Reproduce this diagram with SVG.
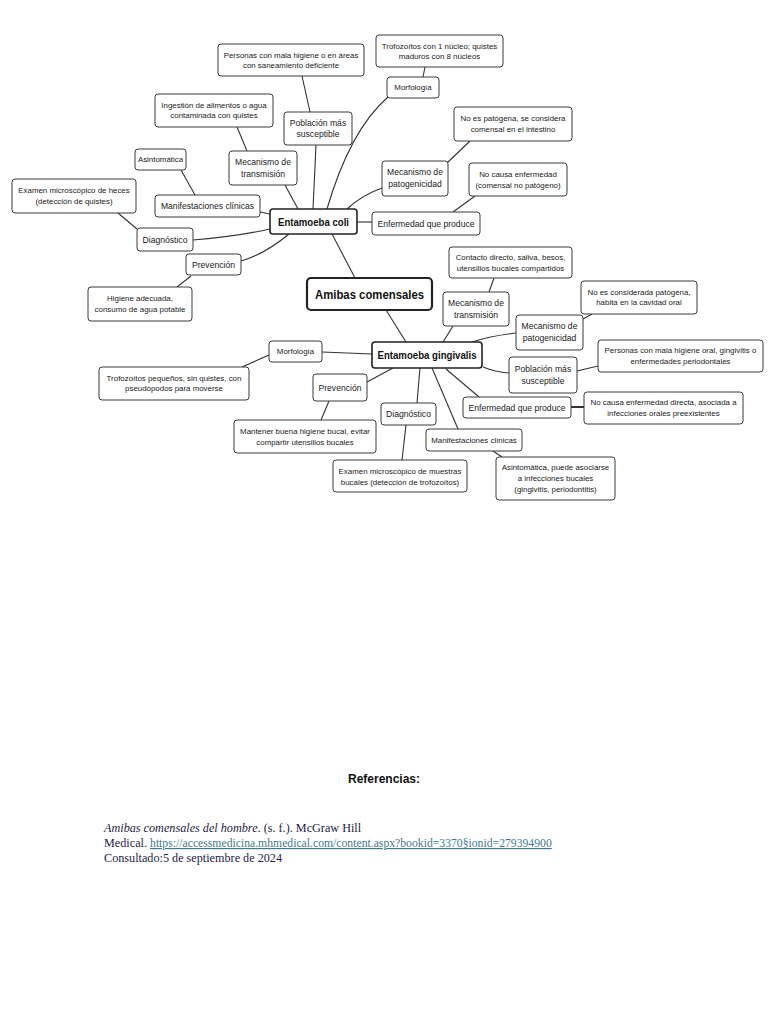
<svg xmlns="http://www.w3.org/2000/svg" width="768" height="1024" viewBox="0 0 768 1024">
<style>
.b{fill:#fff;stroke:#3a3a3a;stroke-width:1}
.m{fill:#fff;stroke:#222;stroke-width:1.6}
.r{fill:#fff;stroke:#222;stroke-width:2.2}
.t{font-family:"Liberation Sans",Arial,sans-serif;font-size:7.9px;fill:#222;text-anchor:middle}
.s{font-family:"Liberation Sans",Arial,sans-serif;font-size:8.6px;fill:#222;text-anchor:middle}
.h{font-family:"Liberation Sans",Arial,sans-serif;font-size:10px;font-weight:bold;fill:#111;text-anchor:middle}
.c path{fill:none;stroke:#333;stroke-width:1.1}
.ref{font-family:"Liberation Serif","Times New Roman",serif;font-size:12.2px;fill:#1f2347}
</style>
<rect width="768" height="1024" fill="#fff"/>
<g class="c">
<path d="M332,234 L355,278"/>
<path d="M386,310 L406,342"/>
<path d="M313,209 L316,145"/>
<path d="M310,112 L302,76"/>
<path d="M298,209 L285,185"/>
<path d="M247,151 L237,127"/>
<path d="M327,209 Q350,130 388,97"/>
<path d="M423,77 L425,67"/>
<path d="M347,209 Q362,195 382,188"/>
<path d="M447,163 L470,141"/>
<path d="M357,222 L372,222"/>
<path d="M453,212 L475,196"/>
<path d="M260,212 L270,214"/>
<path d="M181,170 L195,195"/>
<path d="M193,240 Q240,236 270,229"/>
<path d="M137,229 L118,213"/>
<path d="M241,261 Q265,254 289,234"/>
<path d="M191,276 L177,287"/>
<path d="M443,342 L453,326"/>
<path d="M489,292 L494,278"/>
<path d="M472,342 Q490,336 516,333"/>
<path d="M583,319 L592,314"/>
<path d="M483,367 Q495,372 509,373"/>
<path d="M577,371 L598,366"/>
<path d="M446,369 L479,397"/>
<path d="M571,407 L584,407" style="stroke-width:2"/>
<path d="M432,368 L458,429"/>
<path d="M420,368 L417,403"/>
<path d="M406,425 L402,460"/>
<path d="M493,451 L502,457"/>
<path d="M322,352 L372,354"/>
<path d="M269,355 L242,367"/>
<path d="M367,382 L393,368"/>
<path d="M329,401 L321,420"/>
</g>
<g id="amibas"><rect class="r" x="307" y="278" width="125" height="32" rx="4"/><text class="h" x="369.5" y="299" style="font-size:13.5px" textLength="109" lengthAdjust="spacingAndGlyphs">Amibas comensales</text></g>
<g id="coli"><rect class="m" x="270" y="209" width="87" height="25" rx="3"/><text class="h" x="313.5" y="225.5" textLength="71" lengthAdjust="spacingAndGlyphs">Entamoeba coli</text></g>
<g id="gingivalis"><rect class="m" x="372" y="342" width="110" height="26" rx="3"/><text class="h" x="427" y="359" textLength="99" lengthAdjust="spacingAndGlyphs">Entamoeba gingivalis</text></g>
<g id="c-personas"><rect class="b" x="218" y="44" width="146" height="32" rx="3"/><text class="t" x="291" y="58">Personas con mala higiene o en áreas</text><text class="t" x="291" y="68">con saneamiento deficiente</text></g>
<g id="c-trofo"><rect class="b" x="376" y="35" width="127" height="32" rx="3"/><text class="t" x="439.5" y="49">Trofozoítos con 1 núcleo; quistes</text><text class="t" x="439.5" y="59">maduros con 8 núcleos</text></g>
<g id="c-morf"><rect class="b" x="387" y="77" width="52" height="21" rx="3"/><text class="t" x="413" y="90">Morfología</text></g>
<g id="c-pob"><rect class="b" x="284" y="112" width="68" height="33" rx="3"/><text class="s" x="318" y="126">Población más</text><text class="s" x="318" y="137">susceptible</text></g>
<g id="c-ingest"><rect class="b" x="155" y="94" width="118" height="33" rx="3"/><text class="t" x="214" y="108">Ingestión de alimentos o agua</text><text class="t" x="214" y="118">contaminada con quistes</text></g>
<g id="c-mectr"><rect class="b" x="229" y="151" width="68" height="34" rx="3"/><text class="s" x="263" y="165">Mecanismo de</text><text class="s" x="263" y="177">transmisión</text></g>
<g id="c-mecpat"><rect class="b" x="382" y="161" width="66" height="35" rx="3"/><text class="s" x="415" y="175">Mecanismo de</text><text class="s" x="415" y="187">patogenicidad</text></g>
<g id="c-noespat"><rect class="b" x="454" y="107" width="118" height="34" rx="3"/><text class="t" x="513" y="121">No es patógena, se considera</text><text class="t" x="513" y="132">comensal en el intestino</text></g>
<g id="c-nocausa"><rect class="b" x="469" y="163" width="98" height="33" rx="3"/><text class="t" x="518" y="177">No causa enfermedad</text><text class="t" x="518" y="188">(comensal no patógeno)</text></g>
<g id="c-enf"><rect class="b" x="372" y="212" width="108" height="23" rx="3"/><text class="s" x="426" y="226.5">Enfermedad que produce</text></g>
<g id="c-asint"><rect class="b" x="135" y="149" width="51" height="21" rx="3"/><text class="t" x="160.5" y="162">Asintomática</text></g>
<g id="c-examen"><rect class="b" x="12" y="179" width="124" height="34" rx="3"/><text class="t" x="74" y="193">Examen microscópico de heces</text><text class="t" x="74" y="204">(detección de quistes)</text></g>
<g id="c-manif"><rect class="b" x="155" y="195" width="105" height="22" rx="3"/><text class="s" x="207.5" y="209">Manifestaciones clínicas</text></g>
<g id="c-diag"><rect class="b" x="137" y="228" width="56" height="23" rx="3"/><text class="s" x="165" y="242.5">Diagnóstico</text></g>
<g id="c-prev"><rect class="b" x="186" y="254" width="55" height="21" rx="3"/><text class="s" x="213.5" y="267.5">Prevención</text></g>
<g id="c-higiene"><rect class="b" x="88" y="287" width="104" height="34" rx="3"/><text class="t" x="140" y="301">Higiene adecuada,</text><text class="t" x="140" y="312">consumo de agua potable</text></g>
<g id="g-contacto"><rect class="b" x="449" y="247" width="123" height="31" rx="3"/><text class="t" x="510.5" y="260">Contacto directo, saliva, besos,</text><text class="t" x="510.5" y="271">utensilios bucales compartidos</text></g>
<g id="g-mectr"><rect class="b" x="443" y="292" width="66" height="34" rx="3"/><text class="s" x="476" y="306">Mecanismo de</text><text class="s" x="476" y="318">transmisión</text></g>
<g id="g-noescons"><rect class="b" x="581" y="281" width="116" height="33" rx="3"/><text class="t" x="639" y="295">No es considerada patógena,</text><text class="t" x="639" y="305">habita en la cavidad oral</text></g>
<g id="g-mecpat"><rect class="b" x="516" y="315" width="67" height="35" rx="3"/><text class="s" x="549.5" y="329">Mecanismo de</text><text class="s" x="549.5" y="341">patogenicidad</text></g>
<g id="g-pob"><rect class="b" x="509" y="357" width="68" height="36" rx="3"/><text class="s" x="543" y="372">Población más</text><text class="s" x="543" y="384">susceptible</text></g>
<g id="g-personas"><rect class="b" x="598" y="340" width="165" height="32" rx="3"/><text class="t" x="680.5" y="353">Personas con mala higiene oral, gingivitis o</text><text class="t" x="680.5" y="364">enfermedades periodontales</text></g>
<g id="g-enf"><rect class="b" x="463" y="397" width="108" height="21" rx="3"/><text class="s" x="517" y="410.5">Enfermedad que produce</text></g>
<g id="g-nocausa"><rect class="b" x="584" y="392" width="159" height="32" rx="3"/><text class="t" x="663.5" y="405">No causa enfermedad directa, asociada a</text><text class="t" x="663.5" y="416">infecciones orales preexistentes</text></g>
<g id="g-morf"><rect class="b" x="269" y="341" width="53" height="21" rx="3"/><text class="t" x="295.5" y="354">Morfología</text></g>
<g id="g-trofo"><rect class="b" x="99" y="367" width="150" height="33" rx="3"/><text class="t" x="174" y="381">Trofozoítos pequeños, sin quistes, con</text><text class="t" x="174" y="391">pseudópodos para moverse</text></g>
<g id="g-prev"><rect class="b" x="313" y="374" width="54" height="27" rx="3"/><text class="s" x="340" y="390.5">Prevención</text></g>
<g id="g-mantener"><rect class="b" x="234" y="420" width="142" height="33" rx="3"/><text class="t" x="305" y="434">Mantener buena higiene bucal, evitar</text><text class="t" x="305" y="445">compartir utensilios bucales</text></g>
<g id="g-diag"><rect class="b" x="381" y="403" width="55" height="22" rx="3"/><text class="s" x="408.5" y="417">Diagnóstico</text></g>
<g id="g-manif"><rect class="b" x="426" y="429" width="96" height="22" rx="3"/><text class="t" x="474" y="443">Manifestaciones clínicas</text></g>
<g id="g-examen"><rect class="b" x="333" y="460" width="134" height="32" rx="3"/><text class="t" x="400" y="474">Examen microscópico de muestras</text><text class="t" x="400" y="485">bucales (detección de trofozoítos)</text></g>
<g id="g-asint"><rect class="b" x="496" y="457" width="119" height="43" rx="3"/><text class="t" x="555.5" y="470">Asintomática, puede asociarse</text><text class="t" x="555.5" y="481">a infecciones bucales</text><text class="t" x="555.5" y="492">(gingivitis, periodontitis)</text></g>
<text x="384" y="783" style="font-family:'Liberation Sans',Arial,sans-serif;font-size:12px;font-weight:bold;fill:#111;text-anchor:middle">Referencias:</text>
<text class="ref" x="104" y="832"><tspan font-style="italic">Amibas comensales del hombre</tspan>. (s. f.). McGraw Hill</text>
<text class="ref" x="104" y="847">Medical. <tspan fill="#3f7a8e" text-decoration="underline" style="font-size:11.7px">https://accessmedicina.mhmedical.com/content.aspx?bookid=3370§ionid=279394900</tspan></text>
<text class="ref" x="104" y="862">Consultado:5 de septiembre de 2024</text>
</svg>
